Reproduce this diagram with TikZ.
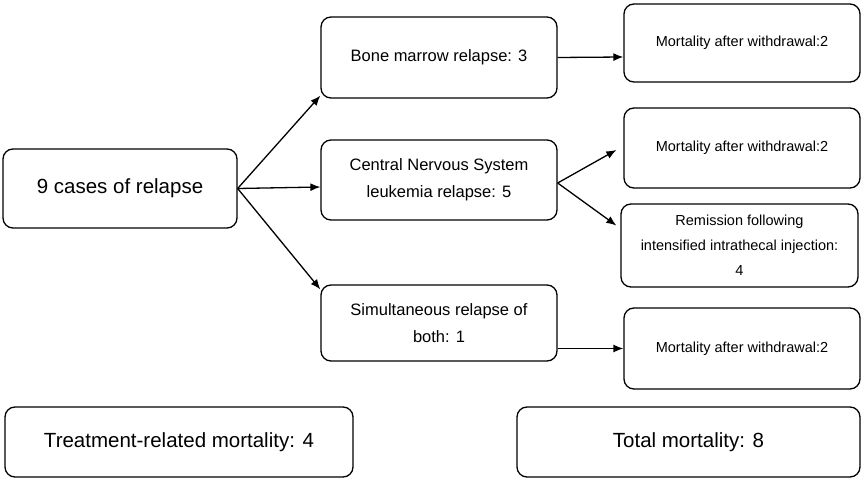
\documentclass[tikz,border=0pt]{standalone}
\usepackage{fontspec}
\setmainfont{Liberation Sans}
\usetikzlibrary{arrows.meta}
\tikzset{
	box/.style={draw,rounded corners=10pt,line width=1.3pt,align=center,inner sep=2pt},
	arr/.style={-{Latex[length=10pt,width=8pt]},line width=1.3pt}
}
\begin{document}
\begin{tikzpicture}[x=1pt,y=-1pt]
	\useasboundingbox (0,0) rectangle (865,481);
	
	% left box
	\node[box,minimum width=234pt,minimum height=79pt,font=\fontsize{20.5}{24}\selectfont] (cases) at (120,188.5) {9 cases of relapse};
	
	% middle column
	\node[box,minimum width=236pt,minimum height=81pt,font=\fontsize{16.5}{27}\selectfont] (bone) at (439,57.5) {Bone marrow relapse: 3};
	\node[box,minimum width=236pt,minimum height=80pt,font=\fontsize{16.5}{27}\selectfont] (cns) at (439,180) {Central Nervous System\\leukemia relapse: 5};
	\node[box,minimum width=236pt,minimum height=76pt,font=\fontsize{16.5}{27}\selectfont] (both) at (439,323) {Simultaneous relapse of\\both: 1};
	
	% right column
	\node[box,minimum width=236pt,minimum height=78pt,font=\fontsize{14.5}{17}\selectfont] (mort1) at (742,43) {Mortality after withdrawal:2};
	\node[box,minimum width=236pt,minimum height=80pt,font=\fontsize{14.5}{17}\selectfont] (mort2) at (742,148) {Mortality after withdrawal:2};
	\node[box,minimum width=237pt,minimum height=83pt,font=\fontsize{14.5}{25}\selectfont] (remis) at (739.5,245.5) {Remission following\\intensified intrathecal injection:\\4};
	\node[box,minimum width=236pt,minimum height=81pt,font=\fontsize{14.5}{17}\selectfont] (mort3) at (742,348.5) {Mortality after withdrawal:2};
	
	% bottom
	\node[box,minimum width=348pt,minimum height=70pt,font=\fontsize{20.5}{24}\selectfont] (treat) at (179,442) {Treatment-related mortality: 4};
	\node[box,minimum width=343pt,minimum height=70pt,font=\fontsize{20.5}{24}\selectfont] (total) at (688.5,442) {Total mortality: 8};
	
	% arrows
	\coordinate (c1) at (cases.east);
	\draw[arr] (c1) -- ([yshift=3pt]bone.south west);
	\draw[arr] (c1) -- ([yshift=-7pt]cns.west);
	\draw[arr] (c1) -- ([yshift=-5pt]both.north west);
	\draw[arr] (bone.east) -- ([yshift=-14pt]mort1.west);
	\draw[arr] ([yshift=-3pt]cns.east) -- ([xshift=-7pt,yshift=-2pt]mort2.west);
	\draw[arr] ([yshift=-3pt]cns.east) -- ([xshift=-4pt,yshift=20pt]remis.west);
	\draw[arr] (both.east |- mort3.west) -- (mort3.west);
\end{tikzpicture}
\end{document}
